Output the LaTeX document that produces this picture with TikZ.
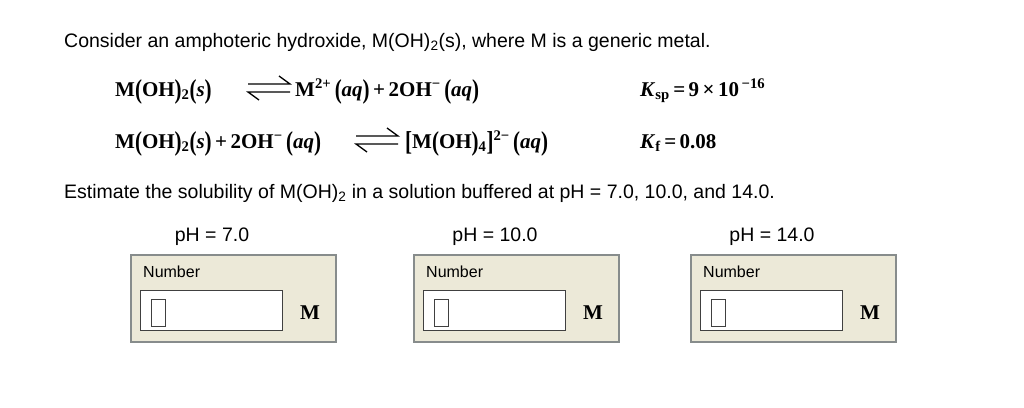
\documentclass[tikz,border=0pt]{standalone}
\usepackage{fontspec}
\usepackage{graphicx}
\setmainfont{Liberation Sans}
\newfontfamily\eqf{Liberation Serif}
\definecolor{panelfill}{RGB}{236,233,216}
\definecolor{panelline}{RGB}{135,140,140}
\newcommand{\lpar}{\raisebox{-0.12em}{\scalebox{1}[1.3]{(}}}
\newcommand{\rpar}{\raisebox{-0.12em}{\scalebox{1}[1.3]{)}}}
\newcommand{\lbrk}{\raisebox{-0.12em}{\scalebox{1}[1.3]{[}}}
\newcommand{\rbrk}{\raisebox{-0.12em}{\scalebox{1}[1.3]{]}}}
\newcommand{\aq}{\lpar\textit{aq}\rpar}
\begin{document}
\begin{tikzpicture}[x=1pt,y=-1pt,
  txt/.style={anchor=base west,inner sep=0,font=\fontsize{19.5}{22}\selectfont},
  eq/.style={anchor=base west,inner sep=0,font=\eqf\bfseries\fontsize{21}{24}\selectfont},
  panel/.style={draw=panelline,line width=2.2pt,fill=panelfill},
  field/.style={draw=black!75,line width=1pt,fill=white},
  cursorbox/.style={draw=black!75,line width=0.8pt,fill=white},
  harp/.style={line width=1.3pt}]
\useasboundingbox (0,0) rectangle (1024,407);
\node[txt] (t1) at (64,47) {Consider an amphoteric hydroxide, M(OH)\textsubscript{2}(s), where M is a generic metal.};
\node[eq] (e1a) at (115,96) {M\lpar OH\rpar\textsubscript{2}\lpar\textit{s}\rpar};
\node[eq] (e1b) at (295,96) {M\textsuperscript{2+}\,\aq\,+\,2OH\textsuperscript{−}\,\aq};
\node[eq] (e1c) at (640,96) {\textit{K}\textsubscript{sp}\,=\,9\,×\,10\textsuperscript{\,−16}};
\node[eq] (e2a) at (115,148) {M\lpar OH\rpar\textsubscript{2}\lpar\textit{s}\rpar\,+\,2OH\textsuperscript{−}\,\aq};
\node[eq] (e2b) at (405,148) {\lbrk M\lpar OH\rpar\textsubscript{4}\rbrk\textsuperscript{2−}\,\aq};
\node[eq] (e2c) at (640,148) {\textit{K}\textsubscript{f}\,=\,0.08};
% harpoons
\foreach \n/\xa/\ya in {h1/248/88,h2/356/140}{
  \coordinate (\n a) at (\xa,\ya-4);
  \coordinate (\n b) at (\xa+42,\ya-4);
  \coordinate (\n c) at (\xa,\ya+4);
  \coordinate (\n d) at (\xa+42,\ya+4);
  \draw[harp] (\n a) -- (\n b) -- ++(-11,-8);
  \draw[harp] (\n d) -- (\n c) -- ++(11,8);
}
\node[txt] (t2) at (64,198) {Estimate the solubility of M(OH)\textsubscript{2} in a solution buffered at pH = 7.0, 10.0, and 14.0.};
\foreach \i/\x/\lab in {1/0/7.0,2/283/10.0,3/560/14.0}{
  \node[txt,anchor=base] (ph\i) at (212+\x,241) {pH = \lab};
  \node[panel,minimum width=205,minimum height=87,anchor=north west] (p\i) at (130+\x,254) {};
  \node[txt,font=\fontsize{16}{18}\selectfont] (n\i) at (143+\x,277) {Number};
  \node[field,minimum width=142,minimum height=40,anchor=north west] (f\i) at (140+\x,290) {};
  \node[cursorbox,minimum width=14,minimum height=27,anchor=north west,inner sep=0] (c\i) at (151+\x,299) {};
  \node[eq,anchor=base] (m\i) at (310+\x,319) {M};
}
\end{tikzpicture}
\end{document}
